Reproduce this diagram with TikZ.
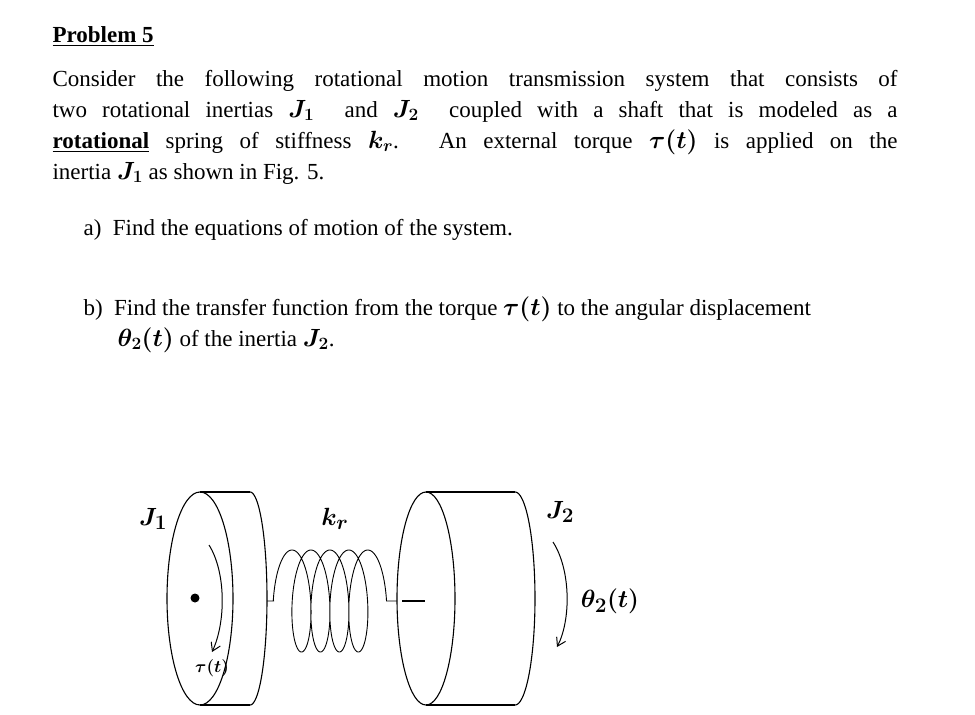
\documentclass[tikz,border=0pt]{standalone}
\usepackage{amsmath,bm}
\usepackage{fontspec}
\setmainfont{Liberation Serif}
\usetikzlibrary{arrows.meta}
\begin{document}
\begin{tikzpicture}[x=1pt,y=-1pt,line width=1.1pt,
  body/.style={font=\fontsize{23}{31}\selectfont},
  lab/.style={font=\fontsize{30}{34}\selectfont},
  torq/.style={line width=1pt,-{Straight Barb[length=8pt,width=10pt]}}]
\useasboundingbox (0,0) rectangle (975,715);
\node[body,anchor=base west,inner sep=0] (title) at (52,42) {\textbf{\underline{Problem 5}}};
\node[body,anchor=base west,inner sep=0,text width=845pt,align=justify] (para) at (52,86)
 {Consider the following rotational motion transmission system that consists of\linebreak two rotational inertias $\bm{J_1}$\ \ and $\bm{J_2}$\ \ coupled with a shaft that is modeled as a\linebreak \textbf{\underline{rotational}} spring of stiffness $\bm{k_r}$. An external torque $\bm{\tau(t)}$ is applied on the\linebreak inertia $\bm{J_1}$ as shown in Fig. 5.};
\node[body,anchor=base west,inner sep=0] (qa) at (83,235) {a)\ \ Find the equations of motion of the system.};
\node[body,anchor=base west,inner sep=0] (qb) at (83,315) {b)\ \ Find the transfer function from the torque $\bm{\tau(t)}$ to the angular displacement};
\node[body,anchor=base west,inner sep=0] (qb2) at (117,346) {$\bm{\theta_2(t)}$ of the inertia $\bm{J_2}$.};
% cylinder 1
\draw (200,598.5) ellipse [x radius=33, y radius=106.5];
\draw (200,492) -- (250,492);
\draw (200,705) -- (250,705);
\draw plot[domain=-90:90,samples=60,variable=\a] ({250+17*cos(\a)},{598.5+106.5*sin(\a)});
\fill (195,598) circle (4.5);
% cylinder 2
\draw (426,598.5) ellipse [x radius=29, y radius=106.5];
\draw (426,492) -- (515,492);
\draw (426,705) -- (515,705);
\draw plot[domain=-90:90,samples=60,variable=\a] ({515+20*cos(\a)},{598.5+106.5*sin(\a)});
% spring
\draw[line width=0.9pt] (267,601) -- (274,601)
  plot[domain=-90:1530,samples=500,variable=\t] ({292+\t/19+14*sin(\t)},{601-51*cos(\t)})
  -- (397,601);
\draw[line width=2pt] (402,601) -- (425,601);
% arrows
\draw[torq] (209,545) .. controls (226,572) and (226,622) .. (212,652);
\draw[torq] (553,542) .. controls (571,570) and (571,620) .. (557,647);
% labels
\node[lab] (J1) at (153,519) {$\bm{J_1}$};
\node[lab] (kr) at (335,519) {$\bm{k_r}$};
\node[lab] (J2) at (560,512) {$\bm{J_2}$};
\node[lab] (th) at (610,601) {$\bm{\theta_2(t)}$};
\node[font=\fontsize{17}{19}\selectfont] (tau) at (212,668) {$\bm{\tau(t)}$};
\end{tikzpicture}
\end{document}
